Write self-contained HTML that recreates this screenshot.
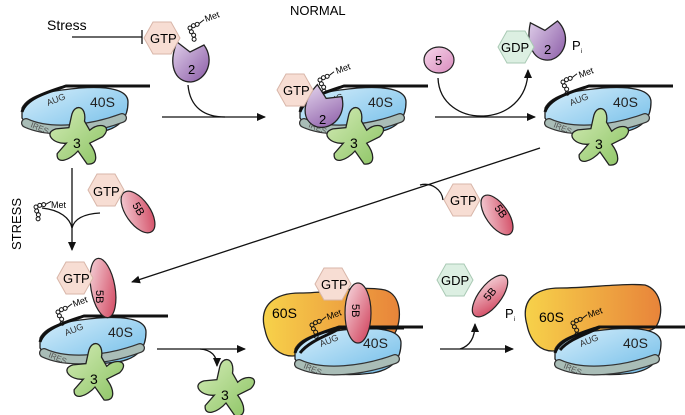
<!DOCTYPE html>
<html><head><meta charset="utf-8"><style>
html,body{margin:0;padding:0;background:#fff;}
svg{display:block;font-family:"Liberation Sans",sans-serif;}
</style></head><body>
<svg width="685" height="415" viewBox="0 0 685 415" xmlns="http://www.w3.org/2000/svg">
<defs>
<linearGradient id="blue" x1="0" y1="0" x2="1" y2="1"><stop offset="0" stop-color="#d6eefb"/><stop offset="1" stop-color="#6fbce8"/></linearGradient>
<linearGradient id="green" x1="0" y1="0" x2="1" y2="1"><stop offset="0" stop-color="#d3ebb6"/><stop offset="1" stop-color="#8cc463"/></linearGradient>
<linearGradient id="purple" x1="0" y1="0" x2="1" y2="1"><stop offset="0" stop-color="#e0d0ea"/><stop offset="1" stop-color="#8a5aa6"/></linearGradient>
<linearGradient id="red" x1="0" y1="0" x2="1" y2="1"><stop offset="0" stop-color="#f7dde2"/><stop offset="1" stop-color="#cf3b56"/></linearGradient>
<linearGradient id="orange" x1="0" y1="0" x2="1" y2="0"><stop offset="0" stop-color="#f7d24a"/><stop offset="1" stop-color="#e8843a"/></linearGradient>
<linearGradient id="pink" x1="0" y1="0" x2="1" y2="1"><stop offset="0" stop-color="#f6d6ea"/><stop offset="1" stop-color="#d98bbd"/></linearGradient>
<marker id="ah" markerWidth="10" markerHeight="10" refX="8" refY="5" orient="auto" markerUnits="userSpaceOnUse"><path d="M0,1 L9,5 L0,9 Z" fill="#111"/></marker>
<g id="star"><path d="M-5,-17 C-3,-27 7,-25 5,-13 L9,-6 C17,-13 27,-9 19,-1 L9,4 C15,12 16,21 7,20 L0,10 C-6,17 -17,21 -16,12 L-9,4 C-19,5 -27,-4 -17,-7 L-7,-8 Z" fill="url(#green)" stroke="#222" stroke-width="1" transform="scale(1.3)"/></g>
<g id="tr"><circle cx="0" cy="0" r="2" fill="none" stroke="#111"/><circle cx="4" cy="-1" r="2" fill="none" stroke="#111"/><circle cx="8" cy="-1" r="2" fill="none" stroke="#111"/><circle cx="0" cy="4" r="2" fill="none" stroke="#111"/><circle cx="1" cy="8" r="2" fill="none" stroke="#111"/><circle cx="0" cy="12" r="2" fill="none" stroke="#111"/><path d="M10,-1 L16,-3" stroke="#111"/></g>
<g id="e2"><path d="M-14,-22 L-1,-12 L13,-19 C24,-4 16,16 0,18 C-17,18 -23,0 -14,-22 Z" fill="url(#purple)" stroke="#222" stroke-width="1.3"/></g>
<g id="hex"><polygon points="-9,-16 9,-16 18,0 9,16 -9,16 -18,0" stroke-width="1"/></g>
<g id="ribo">
<path d="M22,108 C30,92 60,90 80,88 C110,86 128,90 128,102 C128,116 122,128 100,132 C70,136 30,132 22,118 Z" fill="url(#blue)" stroke="#222" stroke-width="1.3"/>
<path d="M26,123 C50,134 90,130 122,118" fill="none" stroke="#333" stroke-width="10" stroke-linecap="round"/>
<path d="M26,123 C50,134 90,130 122,118" fill="none" stroke="#a9bdb7" stroke-width="7.5" stroke-linecap="round"/>
<path d="M22,112 C26,98 48,92 66,86 L150,86" fill="none" stroke="#111" stroke-width="3"/>
<text x="48" y="106" font-size="9" fill="#333" transform="rotate(-22 48 106)">AUG</text>
<text x="90" y="107" font-size="14" fill="#222">40S</text>
<text x="30" y="127" font-size="8" fill="#555" transform="rotate(22 30 127)">IRES</text>
</g>
</defs>

<text x="47" y="30" font-size="14">Stress</text>
<path d="M72,37 L142,37 M142,30 L142,44" stroke="#111" stroke-width="1.3" fill="none"/>
<use href="#e2" x="191" y="64"/>
<text x="188" y="74" font-size="13">2</text>
<use href="#hex" x="162" y="38" fill="#f7ddd3" stroke="#d8b6a9"/>
<text x="150" y="43" font-size="13">GTP</text>
<use href="#tr" x="190" y="28" transform="rotate(-20 190 28)"/>
<text x="206" y="22" font-size="9" transform="rotate(-20 206 22)">Met</text>

<text x="290" y="15" font-size="13">NORMAL</text>

<use href="#ribo"/>
<use href="#star" x="78" y="138"/>
<text x="73" y="148" font-size="14">3</text>

<path d="M162,117 L265,117" stroke="#111" stroke-width="1.3" marker-end="url(#ah)"/>
<path d="M188,85 C190,108 205,117 225,117" stroke="#111" stroke-width="1.3" fill="none"/>

<use href="#ribo" x="278"/>
<use href="#star" x="355" y="138"/>
<text x="350" y="148" font-size="14">3</text>
<use href="#e2" x="323" y="110" transform="rotate(20 323 110)"/>
<text x="319" y="124" font-size="13">2</text>
<use href="#hex" x="295" y="90" fill="#f7ddd3" stroke="#d8b6a9"/>
<text x="283" y="95" font-size="13">GTP</text>
<use href="#tr" x="320" y="80" transform="rotate(-20 320 80)"/>
<text x="337" y="74" font-size="9" transform="rotate(-20 337 74)">Met</text>

<ellipse cx="439" cy="60" rx="15" ry="13" fill="url(#pink)" stroke="#222" stroke-width="1.2"/>
<text x="435" y="65" font-size="13">5</text>
<path d="M435,117 L535,117" stroke="#111" stroke-width="1.3" marker-end="url(#ah)"/>
<path d="M438,78 C440,130 528,130 528,70" stroke="#111" stroke-width="1.3" fill="none" marker-end="url(#ah)"/>
<use href="#e2" x="548" y="42" transform="rotate(-10 548 42)"/>
<text x="544" y="54" font-size="13">2</text>
<use href="#hex" x="516" y="47" fill="#dcefe2" stroke="#a9c9b4"/>
<text x="501" y="52" font-size="13">GDP</text>
<text x="572" y="50" font-size="13">P</text><text x="581" y="53" font-size="6">i</text>

<use href="#ribo" x="523"/>
<use href="#star" x="600" y="139"/>
<text x="595" y="149" font-size="14">3</text>
<use href="#tr" x="563" y="82" transform="rotate(-20 563 82)"/>
<text x="580" y="78" font-size="9" transform="rotate(-20 580 78)">Met</text>

<path d="M540,148 L132,282" stroke="#111" stroke-width="1.3" marker-end="url(#ah)"/>
<path d="M420,185 C432,182 442,190 443,200" stroke="#111" stroke-width="1.3" fill="none"/>
<ellipse cx="497" cy="215" rx="11" ry="23" transform="rotate(-35 497 215)" fill="url(#red)" stroke="#222" stroke-width="1.2"/>
<use href="#hex" x="462" y="200" fill="#f7ddd3" stroke="#d8b6a9"/>
<text x="450" y="205" font-size="13">GTP</text>
<text x="494" y="208" font-size="11" transform="rotate(55 494 208)">5B</text>

<text x="21" y="250" font-size="13" transform="rotate(-90 21 250)">STRESS</text>
<path d="M72,168 L72,250" stroke="#111" stroke-width="1.3" marker-end="url(#ah)"/>
<path d="M42,208 C60,210 70,218 72,228 M100,213 C82,214 74,220 72,228" stroke="#111" stroke-width="1.3" fill="none"/>
<use href="#tr" x="36" y="207" transform="rotate(-10 36 207)"/>
<text x="51" y="208" font-size="9">Met</text>
<ellipse cx="138" cy="212" rx="12" ry="24" transform="rotate(-35 138 212)" fill="url(#red)" stroke="#222" stroke-width="1.2"/>
<use href="#hex" x="106" y="190" fill="#f7ddd3" stroke="#d8b6a9"/>
<text x="93" y="196" font-size="13">GTP</text>
<text x="132" y="205" font-size="11" transform="rotate(60 132 205)">5B</text>

<use href="#ribo" x="18" y="230"/>
<path d="M150,316 L166,316" stroke="#111" stroke-width="3"/>
<use href="#star" x="95" y="374"/>
<text x="90" y="384" font-size="14">3</text>
<ellipse cx="103" cy="288" rx="12" ry="30" transform="rotate(-10 103 288)" fill="url(#red)" stroke="#222" stroke-width="1.2"/>
<text x="96" y="290" font-size="11" transform="rotate(90 96 290)">5B</text>
<use href="#hex" x="75" y="278" fill="#f7ddd3" stroke="#d8b6a9"/>
<text x="63" y="283" font-size="13">GTP</text>
<use href="#tr" x="58" y="312" transform="rotate(-20 58 312)"/>
<text x="74" y="307" font-size="9" transform="rotate(-20 74 307)">Met</text>
<path d="M157,349 L245,349" stroke="#111" stroke-width="1.3" marker-end="url(#ah)"/>
<path d="M200,349 C212,350 217,356 217,366" stroke="#111" stroke-width="1.3" fill="none" marker-end="url(#ah)"/>
<use href="#star" x="226" y="390"/>
<text x="221" y="400" font-size="14">3</text>

<path d="M265,330 C258,305 275,293 300,293 C330,293 360,285 385,290 C402,295 402,320 395,333 C380,345 330,335 300,355 C280,360 268,345 265,330 Z" fill="url(#orange)" stroke="#222" stroke-width="1.3"/>
<use href="#ribo" x="273" y="241"/>
<path d="M300,353 C310,340 330,335 340,328 L404,328" fill="none" stroke="#111" stroke-width="3"/>
<text x="272" y="318" font-size="14">60S</text>
<use href="#tr" x="312" y="325" transform="rotate(-20 312 325)"/>
<text x="328" y="320" font-size="9" transform="rotate(-20 328 320)">Met</text>
<ellipse cx="358" cy="313" rx="13" ry="30" fill="url(#red)" stroke="#222" stroke-width="1.2"/>
<text x="352" y="304" font-size="11" transform="rotate(90 352 304)">5B</text>
<use href="#hex" x="333" y="284" fill="#f7ddd3" stroke="#d8b6a9"/>
<text x="321" y="289" font-size="13">GTP</text>

<use href="#hex" x="455" y="280" fill="#dcefe2" stroke="#a9c9b4"/>
<text x="441" y="285" font-size="13">GDP</text>
<ellipse cx="490" cy="296" rx="11" ry="25" transform="rotate(38 490 296)" fill="url(#red)" stroke="#222" stroke-width="1.2"/>
<text x="484" y="300" font-size="11" transform="rotate(-50 488 296)">5B</text>
<text x="505" y="318" font-size="13">P</text><text x="514" y="321" font-size="6">i</text>
<path d="M440,349 L513,349" stroke="#111" stroke-width="1.3" marker-end="url(#ah)"/>
<path d="M460,349 C470,346 475,338 475,324" stroke="#111" stroke-width="1.3" fill="none" marker-end="url(#ah)"/>

<path d="M527,325 C520,300 535,288 560,288 C590,288 620,283 645,285 C662,290 665,315 655,328 C640,338 590,330 560,350 C540,355 530,340 527,325 Z" fill="url(#orange)" stroke="#222" stroke-width="1.3"/>
<use href="#ribo" x="533" y="241"/>
<path d="M560,350 C570,338 590,333 600,327 L685,327" fill="none" stroke="#111" stroke-width="3"/>
<text x="539" y="322" font-size="14">60S</text>
<use href="#tr" x="573" y="323" transform="rotate(-20 573 323)"/>
<text x="589" y="318" font-size="9" transform="rotate(-20 589 318)">Met</text>
</svg>
</body></html>
